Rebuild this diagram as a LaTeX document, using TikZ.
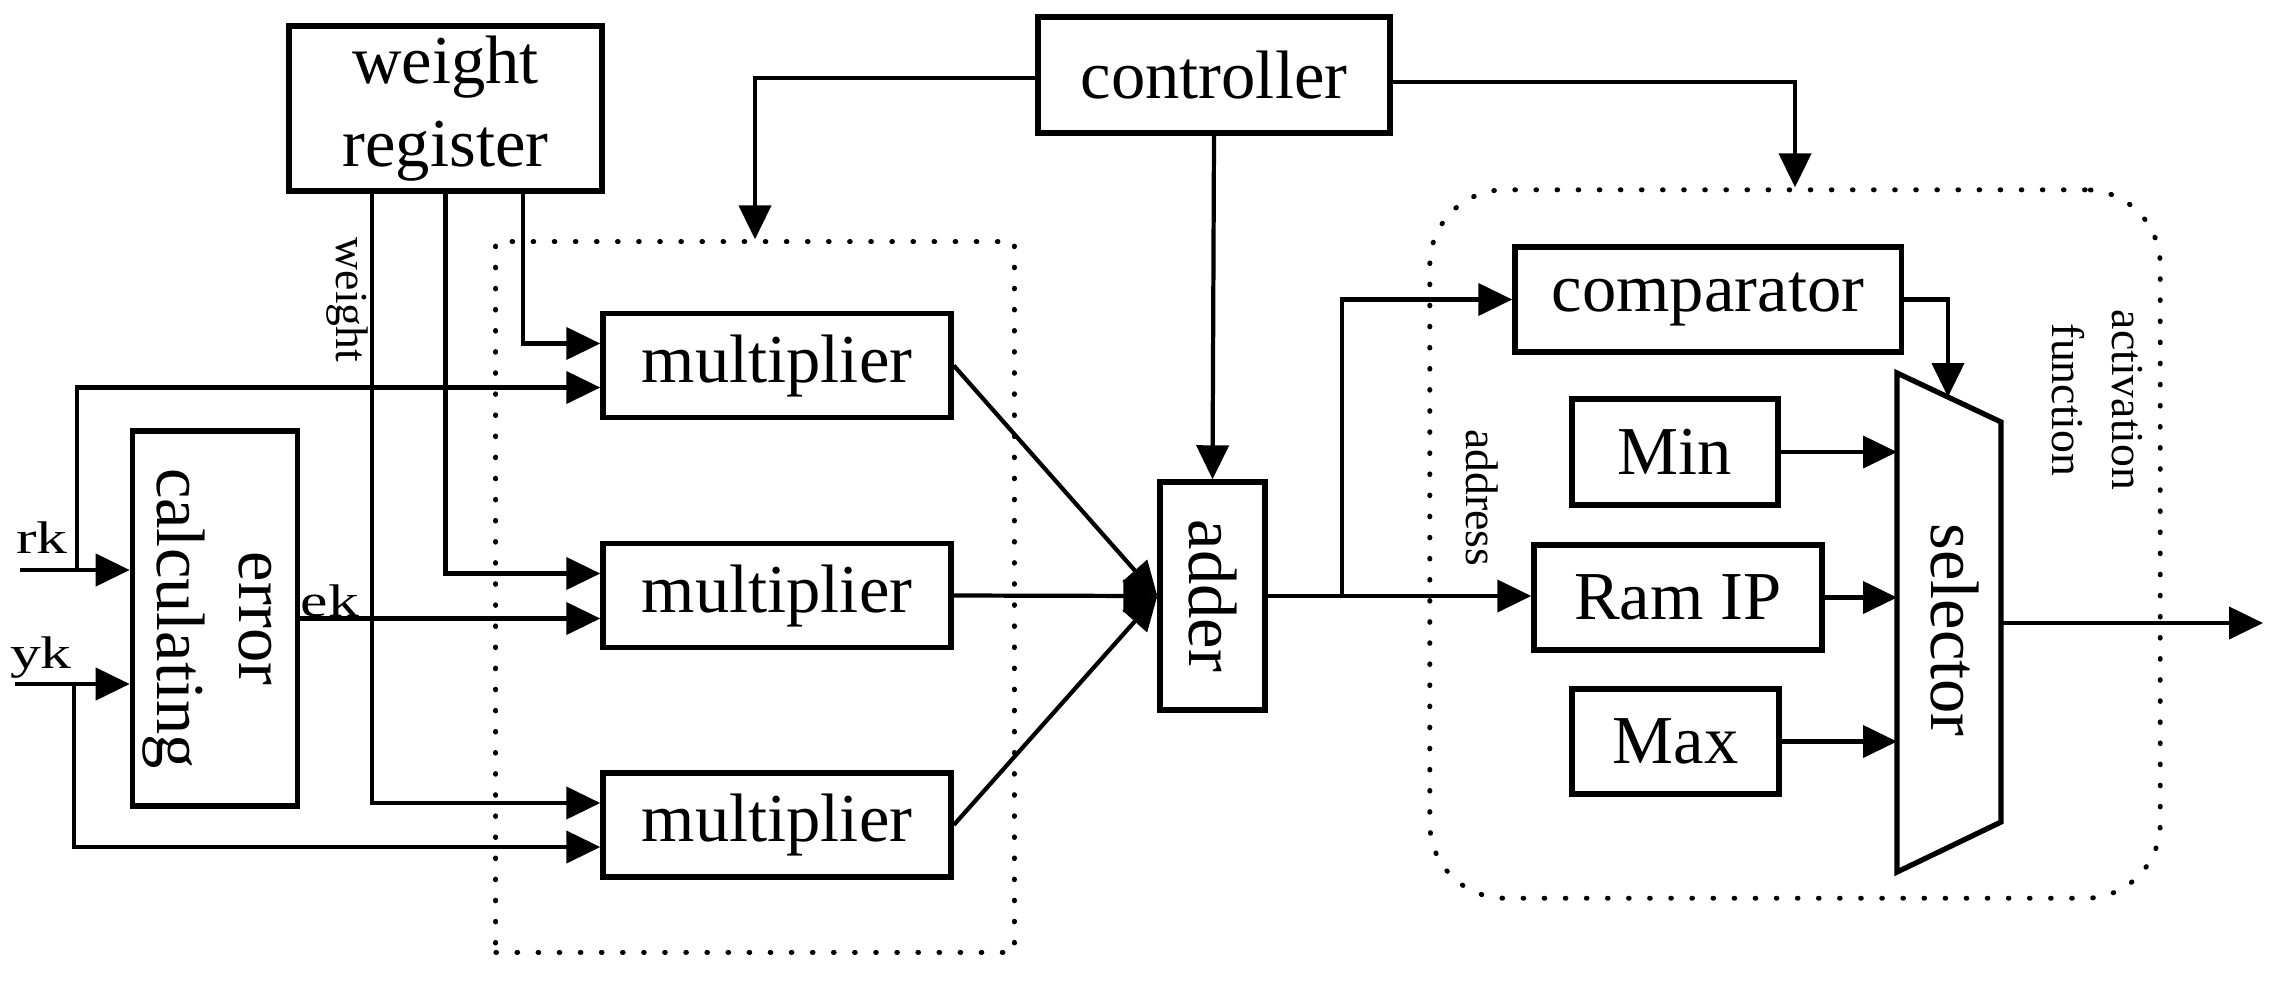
\documentclass[tikz,border=0pt]{standalone}
\usepackage{fontspec}
\setmainfont{Liberation Serif}
\usepackage{graphicx}
\usetikzlibrary{arrows.meta,calc}

\tikzset{
  box/.style={draw, line width=1.5pt, inner sep=0pt, align=center,
    font=\fontsize{19.5}{23.5}\selectfont},
  grp/.style={draw, line width=1.4pt, dash pattern=on 0.2pt off 5.8pt,
    line cap=round, inner sep=0pt},
  lbl/.style={inner sep=0pt, align=center, font=\fontsize{13}{17}\selectfont},
  arr/.style={line width=1.2pt, -{Triangle[length=0.34cm,width=0.32cm]}},
  wire/.style={line width=1.2pt}
}

\begin{document}
\begin{tikzpicture}[x=0.01cm, y=-0.01cm]
\useasboundingbox (0,0) rectangle (2285,981);

% dotted groups
\node[grp, minimum width=5.18cm, minimum height=7.10cm] (mulgrp) at (755,597) {};
\node[grp, rounded corners=0.75cm, minimum width=7.30cm, minimum height=7.08cm] (actgrp) at (1795,544) {};

% blocks
\node[box, minimum width=3.13cm, minimum height=1.65cm] (wreg) at (445.5,108.5) {weight\\register};
\node[box, minimum width=3.52cm, minimum height=1.16cm] (ctrl) at (1214,75) {controller};
\node[box, minimum width=1.54cm, minimum height=3.75cm] (err) at (215,618.5)
  {\rotatebox{-90}{\begin{tabular}{@{}c@{}}error\\calculating\end{tabular}}};
\foreach \i/\y in {1/365.5, 2/595.5, 3/825}
  \node[box, minimum width=3.48cm, minimum height=1.04cm] (m\i) at (777,\y) {multiplier};
\node[box, minimum width=1.05cm, minimum height=2.28cm] (adder) at (1212.5,596) {\rotatebox{-90}{adder}};
\node[box, minimum width=3.86cm, minimum height=1.05cm] (comp) at (1708,299.5) {comparator};
\node[box, minimum width=2.06cm, minimum height=1.06cm] (min) at (1675,452) {Min};
\node[box, minimum width=2.88cm, minimum height=1.05cm] (ram) at (1678,597.5) {Ram IP};
\node[box, minimum width=2.07cm, minimum height=1.05cm] (max) at (1675.5,741.5) {Max};

% selector
\coordinate (s1) at (1897,373);
\coordinate (s2) at (2001,422);
\coordinate (s3) at (2001,822);
\coordinate (s4) at (1897,872);
\draw[line width=1.5pt] (s1) -- (s2) -- (s3) -- (s4) -- cycle;
\node[box, draw=none, rotate=-90] (sel) at (1955,630) {selector};

% labels
\node[lbl, xscale=1.35] (rklbl) at (42,538) {rk};
\node[lbl, xscale=1.35] (yklbl) at (41,658) {yk};
\node[lbl, xscale=1.35] (eklbl) at (330,601) {ek};
\node[lbl, rotate=-90] (wlbl) at (347,300) {weight};
\node[lbl, rotate=-90] (adlbl) at (1482,498) {address};
\node[lbl, rotate=-90] (aflbl) at (2097,400) {activation\\function};

% inputs
\coordinate (rk) at (20,570);
\coordinate (rkj) at (77,570);
\coordinate (yk) at (15,684);
\coordinate (ykj) at (74,684);
\draw[arr] (rk) -- (rk -| err.west);
\draw[arr] (yk) -- (yk -| err.west);
\draw[arr] (rkj) |- ([yshift=-0.22cm]m1.west);
\draw[arr] (ykj) |- ([yshift=-0.22cm]m3.west);
\draw[arr] (err.east) -- (err.east -| m2.west);

% weights
\draw[arr] ([xshift=0.775cm]wreg.south) |- ([yshift=0.22cm]m1.west);
\draw[arr] (wreg.south) |- ([yshift=0.22cm]m2.west);
\draw[arr] ([xshift=-0.735cm]wreg.south) |- ([yshift=0.22cm]m3.west);

% controller
\draw[arr] ([yshift=-0.03cm]ctrl.west) -| (mulgrp.north);
\draw[arr] ([yshift=-0.07cm]ctrl.east) -| (actgrp.north);
\draw[arr] (ctrl.south) -- (adder.north);

% adder
\foreach \i in {1,2,3}
  \draw[arr] (m\i.east) -- (adder.west);
\coordinate (aj) at ([xshift=0.74cm]adder.east);
\draw[arr] (adder.east) -- (adder.east -| ram.west);
\draw[arr] (aj) |- (comp.west);

% activation function
\coordinate (csel) at ($(s1)!0.49!(s2)$);
\draw[arr] (comp.east) -| (csel);
\foreach \n in {min,ram,max}
  \draw[arr] (\n.east) -- (\n.east -| s1);
\coordinate (out) at (2263,623);
\draw[arr] (out -| s2) -- (out);

\end{tikzpicture}
\end{document}
